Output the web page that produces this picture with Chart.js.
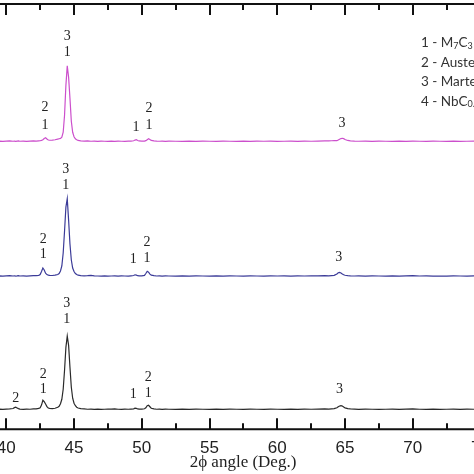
<!DOCTYPE html>
<html><head><meta charset="utf-8">
<script src="https://cdn.jsdelivr.net/npm/chart.js@4"></script>
<style>
html,body{margin:0;padding:0;background:#fff;overflow:hidden;width:474px;height:474px}
#wrap{position:absolute;left:-57px;top:0;width:600px;height:474px}
</style></head><body>
<div id="wrap"><canvas id="c" width="600" height="474"></canvas></div>
<script>
// 2θ angles (deg)
const angles = [39.0,39.25,39.5,39.75,40.0,40.25,40.5,40.6,40.7,40.8,40.9,41.0,41.25,41.5,41.75,42.0,42.2,42.4,42.5,42.6,42.7,42.8,42.9,43.0,43.1,43.2,43.4,43.6,43.8,43.9,44.0,44.1,44.2,44.3,44.4,44.5,44.6,44.7,44.8,44.9,45.0,45.1,45.2,45.3,45.5,45.75,46.0,46.25,46.5,46.75,47.0,47.25,47.5,47.75,48.0,48.25,48.5,48.75,49.0,49.2,49.4,49.5,49.6,49.7,49.8,50.0,50.2,50.3,50.4,50.5,50.6,50.7,50.9,51.1,51.3,51.5,51.75,52.0,52.5,53.0,53.5,54.0,54.5,55.0,55.5,56.0,56.5,57.0,57.5,58.0,58.5,59.0,59.5,60.0,60.5,61.0,61.5,62.0,62.5,63.0,63.5,63.8,64.0,64.2,64.4,64.5,64.6,64.7,64.8,64.9,65.0,65.2,65.4,65.7,66.0,66.5,67.0,67.5,68.0,68.5,69.0,69.5,70.0,70.5,71.0,71.5,72.0,72.5,73.0,73.5,74.0,74.5,75.0];
// intensities (a.u., traces offset)
const magentaTrace = [2886,2883,2887,2884,2886,2888,2885,2887,2884,2886,2888,2885,2887,2884,2886,2888,2887,2889,2890,2893,2900,2913,2920,2907,2897,2895,2897,2900,2907,2910,2913,2925,2975,3145,3445,3640,3525,3315,3085,2975,2930,2910,2899,2893,2889,2886,2888,2885,2887,2884,2886,2885,2883,2886,2884,2887,2885,2884,2886,2887,2890,2897,2900,2893,2888,2886,2887,2891,2901,2910,2903,2893,2888,2886,2885,2887,2884,2886,2885,2883,2886,2884,2887,2885,2884,2886,2885,2883,2886,2884,2887,2885,2886,2884,2885,2887,2884,2886,2885,2887,2888,2889,2890,2891,2891,2897,2905,2912,2915,2911,2903,2893,2888,2886,2885,2887,2884,2886,2885,2883,2886,2884,2887,2885,2884,2886,2885,2883,2886,2884,2885,2887,2885];
const blueTrace = [1536,1533,1537,1534,1536,1538,1535,1537,1534,1536,1539,1535,1537,1534,1536,1538,1539,1541,1549,1580,1615,1595,1563,1549,1543,1541,1540,1543,1550,1560,1585,1635,1765,1985,2225,2310,2095,1855,1695,1615,1580,1560,1550,1543,1539,1536,1538,1542,1537,1535,1534,1536,1533,1535,1537,1534,1536,1535,1534,1537,1540,1547,1543,1538,1536,1537,1541,1560,1582,1573,1553,1543,1538,1535,1537,1534,1536,1535,1533,1536,1534,1537,1535,1533,1536,1534,1537,1535,1534,1536,1535,1533,1536,1535,1537,1534,1536,1535,1537,1536,1538,1537,1539,1541,1555,1568,1571,1565,1555,1547,1542,1538,1536,1535,1537,1534,1536,1535,1533,1536,1534,1537,1538,1535,1536,1534,1535,1533,1536,1535,1534,1536,1535];
const blackTrace = [201,198,202,199,201,203,207,216,220,213,206,201,199,202,200,203,204,208,215,242,290,276,252,226,212,208,207,210,220,230,255,300,400,590,820,933,840,620,420,310,260,235,220,212,206,203,200,202,199,201,198,200,202,201,204,200,198,201,200,202,204,210,208,203,201,202,205,215,235,240,225,210,203,200,202,199,201,200,198,201,199,202,200,198,201,199,202,200,198,201,200,199,202,200,198,201,199,202,200,201,203,202,204,206,215,225,233,236,232,222,214,206,203,201,199,201,200,198,200,202,199,201,204,200,198,201,199,200,202,199,201,200,201];

const majorTicks = [40,45,50,55,60,65,70,75];
const minorTicks = [37.5,42.5,47.5,52.5,57.5,62.5,67.5,72.5,77.5];

// peak phase labels
const peakText  = ['3','1','2','1','1','2','1','3', '3','1','2','1','1','2','1','3', '3','1','2','2','1','1','2','1','3'];
const peakAngle = [44.5,44.5,42.86,42.86,49.57,50.53,50.53,64.78, 44.38,44.38,42.73,42.73,49.37,50.38,50.38,64.53, 44.46,44.46,40.69,42.73,42.73,49.37,50.48,50.48,64.6];
const peakLevel = [3940,3773,3220,3043,3023,3210,3043,3060, 2600,2440,1903,1747,1697,1873,1713,1723, 1257,1097,313,547,397,353,520,357,397];

const legendRows = [
  [['1 - M',0],['7',1],['C',0],['3',1]],
  [['2 - Austenite',0]],
  [['3 - Martensite',0]],
  [['4 - NbC',0],['0.88',1]]
];

const framePlugin = {
  id:'frame',
  afterDatasetsDraw(chart){
    const {ctx, scales:{x,y}} = chart;
    ctx.save();
    ctx.fillStyle = '#222';
    ctx.font = '14px "Liberation Serif", "Times New Roman", serif';
    ctx.textAlign = 'center';
    ctx.textBaseline = 'middle';
    peakText.forEach((t,i)=>{
      ctx.fillText(t, x.getPixelForValue(peakAngle[i]), y.getPixelForValue(peakLevel[i]));
    });
    ctx.restore();
  },
  afterDraw(chart){
    const {ctx, chartArea:a, scales:{x}} = chart;
    ctx.save();
    ctx.strokeStyle = '#111';
    ctx.lineWidth = 2;
    ctx.beginPath();
    ctx.moveTo(a.left, a.top); ctx.lineTo(a.right, a.top);
    ctx.moveTo(a.left, a.bottom); ctx.lineTo(a.right, a.bottom);
    majorTicks.forEach(v=>{
      const p = Math.round(x.getPixelForValue(v));
      ctx.moveTo(p, a.bottom); ctx.lineTo(p, a.bottom-11);
      ctx.moveTo(p, a.top); ctx.lineTo(p, a.top+11);
    });
    minorTicks.forEach(v=>{
      const p = Math.round(x.getPixelForValue(v));
      ctx.moveTo(p, a.bottom); ctx.lineTo(p, a.bottom-6);
      ctx.moveTo(p, a.top); ctx.lineTo(p, a.top+6);
    });
    ctx.stroke();
    // legend text
    ctx.fillStyle = '#333';
    ctx.textBaseline = 'middle';
    ctx.textAlign = 'left';
    const lx = 478, ly = 43, step = 19.5;
    legendRows.forEach((row,r)=>{
      let cx = lx;
      const cy = ly + r*step;
      row.forEach(([t,sub])=>{
        ctx.font = sub ? '9px Lato, "Noto Sans", sans-serif' : '13.5px Lato, "Noto Sans", sans-serif';
        ctx.fillText(t, cx, cy + (sub ? 3 : 0));
        cx += ctx.measureText(t).width;
      });
    });
    ctx.restore();
  }
};

const mk = (arr)=>angles.map((a,i)=>({x:a,y:arr[i]}));

new Chart(document.getElementById('c'), {
  type:'line',
  data:{ datasets:[
    {data:mk(magentaTrace), borderColor:'#cc4fcc', borderWidth:1.2, pointRadius:0, tension:0, fill:false},
    {data:mk(blueTrace), borderColor:'#3b3b98', borderWidth:1.2, pointRadius:0, tension:0, fill:false},
    {data:mk(blackTrace), borderColor:'#2a2a2a', borderWidth:1.2, pointRadius:0, tension:0, fill:false}
  ]},
  options:{
    responsive:false, animation:false, events:[],
    layout:{padding:{top:4,left:0,right:0,bottom:0}},
    plugins:{legend:{display:false}, tooltip:{enabled:false}},
    scales:{
      x:{type:'linear', min:35.33, max:79.61,
        grid:{display:false, drawTicks:false}, border:{display:false},
        afterBuildTicks:(s)=>{ s.ticks = majorTicks.map(v=>({value:v})); },
        ticks:{autoSkip:false, maxRotation:0, padding:9, color:'#222',
          font:{family:'"Liberation Sans", Arial, sans-serif', size:17},
          callback:(v)=>String(v)},
        title:{display:true, text:'2ϕ angle (Deg.)', color:'#222',
          font:{family:'"Liberation Serif", "Times New Roman", serif', size:17},
          padding:{top:-15, bottom:1}}
      },
      y:{display:false, min:0, max:4260}
    }
  },
  plugins:[framePlugin]
});
</script>
</body></html>
